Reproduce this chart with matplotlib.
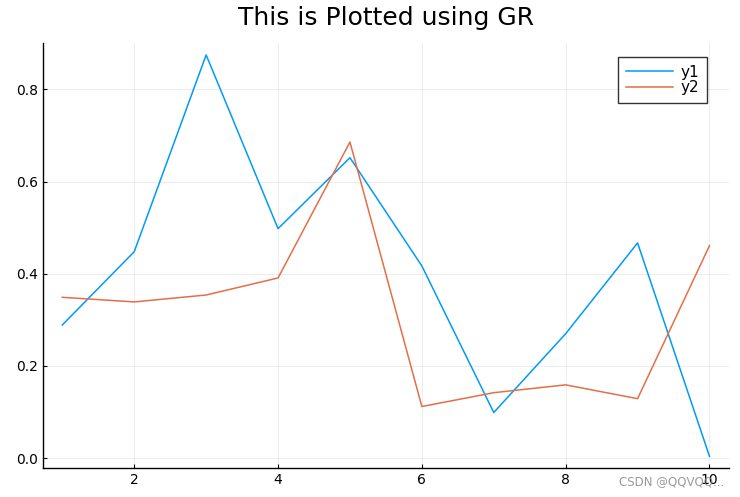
import numpy as np
import matplotlib.pyplot as plt

x = np.arange(1, 11)
y1 = [0.289, 0.448, 0.875, 0.498, 0.652, 0.417, 0.099, 0.270, 0.467, 0.004]
y2 = [0.349, 0.339, 0.354, 0.391, 0.686, 0.112, 0.142, 0.159, 0.129, 0.461]

fig = plt.figure(figsize=(7.4, 4.97), dpi=100)
ax = fig.add_axes([0.058, 0.0577, 0.927, 0.856])

ax.plot(x, y1, color='#009AFA', lw=1.1, label='y1')
ax.plot(x, y2, color='#E36F47', lw=1.1, label='y2')

# julia-style 3% padding
ax.set_xlim(1 - 0.27, 10 + 0.27)
lo, hi = min(min(y1), min(y2)), max(max(y1), max(y2))
pad = 0.03 * (hi - lo)
ax.set_ylim(lo - pad, hi + pad)

ax.set_xticks([2, 4, 6, 8, 10])
ax.set_yticks([0.0, 0.2, 0.4, 0.6, 0.8])
ax.set_yticklabels(['0.0', '0.2', '0.4', '0.6', '0.8'])
ax.grid(True, color='black', alpha=0.1, lw=0.5)
ax.tick_params(direction='in', length=3, labelsize=10, width=0.8)
for s in ['top', 'right']:
    ax.spines[s].set_visible(False)
for s in ['left', 'bottom']:
    ax.spines[s].set_linewidth(1.0)

ax.set_title('This is Plotted using GR', fontsize=18, pad=13)
leg = ax.legend(loc='upper right', fancybox=False, edgecolor='black', fontsize=11,
                handlelength=3.1, borderpad=0.5, labelspacing=0.05, handletextpad=0.5,
                borderaxespad=0, bbox_to_anchor=(0.968, 0.967))
leg.get_frame().set_linewidth(1.0)

fig.text(0.836, 0.025, 'CSDN @QQVQQ...', color='gray', fontsize=8.5, alpha=0.8)

fig.savefig('out.png', dpi=100)
